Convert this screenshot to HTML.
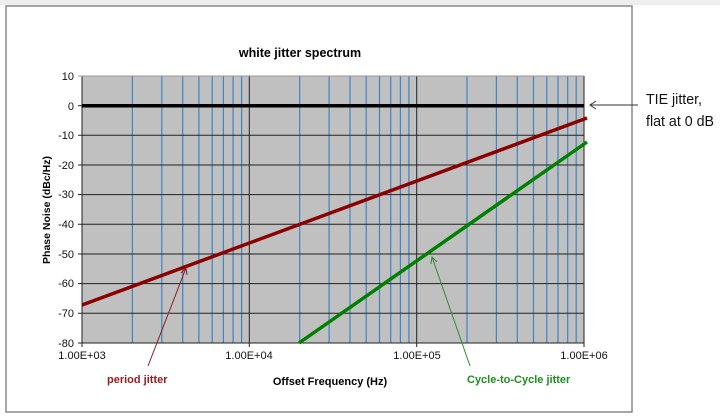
<!DOCTYPE html>
<html><head><style>body{margin:0;background:#fff}svg{display:block}text{font-family:"Liberation Sans",Arial,sans-serif}</style></head><body>
<svg width="720" height="419" xmlns="http://www.w3.org/2000/svg">
<rect x="0" y="0" width="720" height="5" fill="#eee"/>
<rect x="6" y="6" width="626" height="406" fill="#fff" stroke="#888" stroke-width="1.5"/>
<text x="300" y="57" font-size="12.5" font-weight="bold" text-anchor="middle">white jitter spectrum</text>
<rect x="82" y="76" width="502" height="267" fill="#c0c0c0"/>
<g stroke="#3d85c6" stroke-width="1.2">
<line x1="132.4" y1="76" x2="132.4" y2="343"/><line x1="161.8" y1="76" x2="161.8" y2="343"/><line x1="182.7" y1="76" x2="182.7" y2="343"/><line x1="198.9" y1="76" x2="198.9" y2="343"/><line x1="212.2" y1="76" x2="212.2" y2="343"/><line x1="223.4" y1="76" x2="223.4" y2="343"/><line x1="233.1" y1="76" x2="233.1" y2="343"/><line x1="241.6" y1="76" x2="241.6" y2="343"/>
<line x1="299.7" y1="76" x2="299.7" y2="343"/><line x1="329.1" y1="76" x2="329.1" y2="343"/><line x1="350.0" y1="76" x2="350.0" y2="343"/><line x1="366.2" y1="76" x2="366.2" y2="343"/><line x1="379.5" y1="76" x2="379.5" y2="343"/><line x1="390.7" y1="76" x2="390.7" y2="343"/><line x1="400.4" y1="76" x2="400.4" y2="343"/><line x1="408.9" y1="76" x2="408.9" y2="343"/>
<line x1="467.0" y1="76" x2="467.0" y2="343"/><line x1="496.4" y1="76" x2="496.4" y2="343"/><line x1="517.3" y1="76" x2="517.3" y2="343"/><line x1="533.5" y1="76" x2="533.5" y2="343"/><line x1="546.8" y1="76" x2="546.8" y2="343"/><line x1="558.0" y1="76" x2="558.0" y2="343"/><line x1="567.7" y1="76" x2="567.7" y2="343"/><line x1="576.2" y1="76" x2="576.2" y2="343"/>
</g>
<g stroke="#222" stroke-width="1">
<line x1="249.3" y1="76" x2="249.3" y2="347"/><line x1="416.7" y1="76" x2="416.7" y2="347"/><line x1="584" y1="76" x2="584" y2="347"/>
<line x1="82" y1="76" x2="82" y2="347"/>
<line x1="78" y1="76" x2="584" y2="76" stroke="#999"/>
<line x1="78" y1="135.3" x2="584" y2="135.3"/><line x1="78" y1="165" x2="584" y2="165"/><line x1="78" y1="194.6" x2="584" y2="194.6"/><line x1="78" y1="224.3" x2="584" y2="224.3"/><line x1="78" y1="254" x2="584" y2="254"/><line x1="78" y1="283.6" x2="584" y2="283.6"/><line x1="78" y1="313.3" x2="584" y2="313.3"/><line x1="78" y1="343" x2="584" y2="343"/>
<line x1="78" y1="105.7" x2="82" y2="105.7"/>
</g>
<line x1="82" y1="105.7" x2="584" y2="105.7" stroke="#000" stroke-width="3.5"/>
<line x1="82" y1="305" x2="587" y2="118" stroke="#8b0000" stroke-width="3.5"/>
<line x1="299" y1="343" x2="587" y2="142" stroke="#008000" stroke-width="3.5"/>
<g font-size="11" text-anchor="end" fill="#111">
<text x="74" y="80">10</text><text x="74" y="110">0</text><text x="74" y="139">-10</text><text x="74" y="169">-20</text><text x="74" y="198">-30</text><text x="74" y="228">-40</text><text x="74" y="258">-50</text><text x="74" y="287">-60</text><text x="74" y="317">-70</text><text x="74" y="347">-80</text>
</g>
<g font-size="11" text-anchor="middle" fill="#111">
<text x="82" y="359">1.00E+03</text><text x="249" y="359">1.00E+04</text><text x="417" y="359">1.00E+05</text><text x="584" y="359">1.00E+06</text>
</g>
<text x="330" y="385" font-size="11" font-weight="bold" text-anchor="middle">Offset Frequency (Hz)</text>
<text transform="translate(50,210) rotate(-90)" font-size="10.5" font-weight="bold" text-anchor="middle">Phase Noise (dBc/Hz)</text>
<line x1="638" y1="105" x2="590" y2="105" stroke="#333" stroke-width="1"/>
<polyline points="596,101 590,105 596,109" fill="none" stroke="#333"/>
<text x="646" y="104" font-size="15" fill="#111" textLength="56" lengthAdjust="spacingAndGlyphs">TIE jitter,</text>
<text x="646" y="126" font-size="15" fill="#111" textLength="68" lengthAdjust="spacingAndGlyphs">flat at 0 dB</text>
<line x1="148" y1="366" x2="186" y2="268" stroke="#8b1a1a" stroke-width="1"/>
<polyline points="181,273 186,268 187,275" fill="none" stroke="#8b1a1a"/>
<text x="107" y="383" font-size="11" font-weight="bold" fill="#9b1b1b">period jitter</text>
<line x1="470" y1="366" x2="432" y2="257" stroke="#2e8b2e" stroke-width="1"/>
<polyline points="431,264 432,257 437,262" fill="none" stroke="#2e8b2e"/>
<text x="467" y="383" font-size="11" font-weight="bold" fill="#1f8f1f">Cycle-to-Cycle  jitter</text>
</svg>
</body></html>
